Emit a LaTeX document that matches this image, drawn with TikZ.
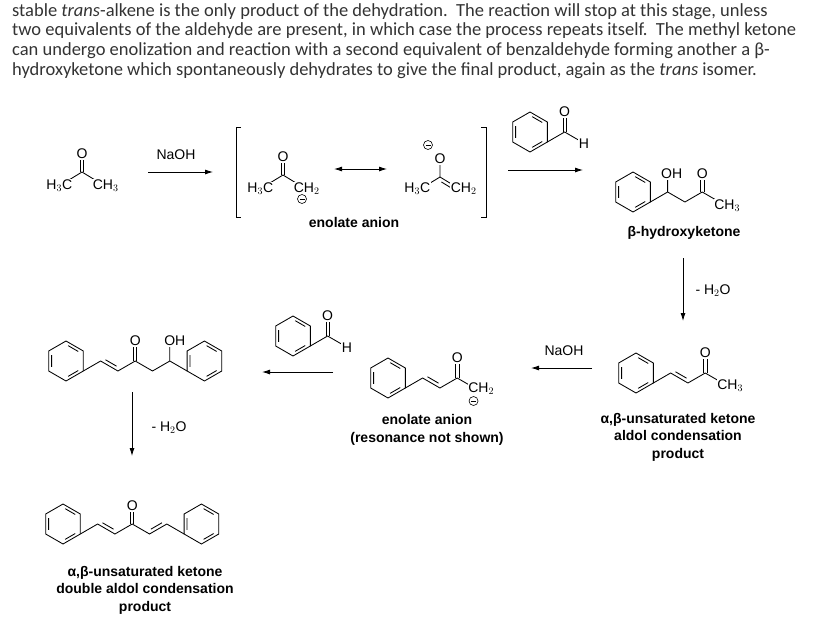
\documentclass[tikz,border=0pt]{standalone}
\usepackage{fontspec}
\setmainfont{Liberation Sans}
\newfontfamily\parafont{Carlito}
\usetikzlibrary{calc,arrows.meta}
\tikzset{
 bd/.style={line width=0.85pt},
 atm/.style={fill=white,inner sep=0.6pt,font=\fontsize{14}{15}\selectfont},
 captxt/.style={font=\bfseries\fontsize{14}{17.5}\selectfont,align=center},
 lbl/.style={font=\fontsize{14}{15}\selectfont},
 arr/.style={line width=0.85pt,-{Latex[length=8pt,width=5pt]}},
 para/.style={anchor=west,font=\parafont\fontsize{18.5}{20}\selectfont,inner sep=0,text=black!80}
}
\newcommand\benz[1]{%
 \draw[bd] (#1) +(90:20) -- +(30:20) -- +(-30:20) -- +(-90:20) -- +(-150:20) -- +(150:20) -- cycle;
 \draw[bd] (#1) +(82:15.5) -- +(38:15.5) +(-38:15.5) -- +(-82:15.5) +(202:15.5) -- +(158:15.5);}
\newcommand\dbl[3]{\draw[bd] ($(#1)!0.18!(#2)!3.5pt!#3:(#2)$) -- ($(#2)!0.18!(#1)!3.5pt!-#3:(#1)$);}
\newcommand\co[2]{\draw[bd] ($(#1)+(-1.7,0)$) -- ($(#2)+(-1.7,0)$) ($(#1)+(1.7,0)$) -- ($(#2)+(1.7,0)$);}
\newcommand\minus[1]{\node[circle,draw,inner sep=0,minimum size=9pt,fill=white,line width=0.6pt] at (#1) {};\draw[line width=0.7pt] ($(#1)+(-2.5,0)$)--($(#1)+(2.5,0)$);}
\begin{document}
\begin{tikzpicture}[x=1pt,y=-1pt]
\useasboundingbox (0,0) rectangle (818,629);
% paragraph
\node[para] (p1) at (12,12) {stable \textit{trans}-alkene is the only product of the dehydration.\ \ The reaction will stop at this stage, unless};
\node[para] (p2) at (12,31) {two equivalents of the aldehyde are present, in which case the process repeats itself.\ \ The methyl ketone};
\node[para] (p3) at (12,51) {can undergo enolization and reaction with a second equivalent of benzaldehyde forming another a β-};
\node[para] (p4) at (12,71) {hydroxyketone which spontaneously dehydrates to give the final product, again as the \textit{trans} isomer.};

% acetone
\coordinate (a0) at (82,172); \coordinate (aO) at (82,154);
\coordinate (aL) at (64,183); \coordinate (aR) at (100,183);
\draw[bd] (aL)--(a0)--(aR); \co{a0}{aO}
\node[atm] at (82,154) {O};
\node[atm,anchor=east] at (73,186) {H$_3$C};
\node[atm,anchor=west] at (92,186) {CH$_3$};

% arrow NaOH
\node[lbl] (n1) at (176,155) {NaOH};
\coordinate (r1s) at (148,172); \coordinate (r1e) at (213,172);
\draw[arr] (r1s)--(r1e);

% bracket
\coordinate (bl1) at (236,127); \coordinate (bl2) at (236,217);
\draw[line width=0.7pt] ($(bl1)+(5,0)$)--(bl1)--(bl2)--($(bl2)+(5,0)$);
\coordinate (br1) at (486,127); \coordinate (br2) at (486,217);
\draw[line width=0.7pt] ($(br1)+(-5,0)$)--(br1)--(br2)--($(br2)+(-5,0)$);

% enolate 1
\coordinate (e0) at (283,175); \coordinate (eO) at (283,157);
\coordinate (eL) at (265,186); \coordinate (eR) at (301,186);
\draw[bd] (eL)--(e0)--(eR); \co{e0}{eO}
\node[atm] at (283,157) {O};
\node[atm,anchor=east] at (274,189) {H$_3$C};
\node[atm,anchor=west] at (293,189) {CH$_2$};
\minus{302,199}
% resonance arrow
\coordinate (ra) at (334,169); \coordinate (rb) at (387,169);
\draw[line width=0.85pt,{Latex[length=8pt,width=5pt]}-{Latex[length=8pt,width=5pt]}] (ra)--(rb);
% enolate 2
\coordinate (f0) at (440,177); \coordinate (fO) at (440,159);
\coordinate (fL) at (422,188); \coordinate (fR) at (458,188);
\draw[bd] (fL)--(f0)--(fR) (f0)--(fO);
\dbl{f0}{fR}{-90}
\node[atm] at (440,159) {O};
\node[atm,anchor=east] at (431,189) {H$_3$C};
\node[atm,anchor=west] at (450,189) {CH$_2$};
\minus{428,145}
\node[captxt] (ea1) at (354,222) {enolate anion};

% arrow 2
\coordinate (r2s) at (508,170); \coordinate (r2e) at (583,170);
\draw[arr] (r2s)--(r2e);
% benzaldehyde top
\coordinate (bz1) at (530,132);
\benz{bz1}
\coordinate (b1a) at ($(bz1)+(30:20)$); \coordinate (b1c) at ($(b1a)+(17.3,-10)$);
\coordinate (b1O) at ($(b1c)+(0,-20)$); \coordinate (b1H) at ($(b1c)+(17.3,10)$);
\draw[bd] (b1a)--(b1c)--(b1H); \co{b1c}{b1O}
\node[atm] at (b1O) {O}; \node[atm] at ($(b1H)+(2,2)$) {H};

% beta-hydroxyketone
\coordinate (bz2) at (633,192);
\benz{bz2}
\coordinate (h1) at ($(bz2)+(30:20)$);
\coordinate (h2) at ($(h1)+(17.3,-10)$); \coordinate (h3) at ($(h2)+(17.3,10)$);
\coordinate (h4) at ($(h3)+(17.3,-10)$); \coordinate (h5) at ($(h4)+(17.3,10)$);
\coordinate (hOH) at ($(h2)+(0,-18)$); \coordinate (hO) at ($(h4)+(0,-18)$);
\draw[bd] (h1)--(h2)--(h3)--(h4)--(h5) (h2)--(hOH); \co{h4}{hO}
\node[atm] at ($(hOH)+(4,0)$) {OH}; \node[atm] at (hO) {O};
\node[atm,anchor=west] at ($(h5)+(-6,4)$) {CH$_3$};
\node[captxt] (bh) at (684,233) {β-hydroxyketone};

% vertical arrow right
\coordinate (v1s) at (683,258); \coordinate (v1e) at (683,321);
\draw[arr] (v1s)--(v1e);
\node[lbl,anchor=west] (w1) at (692,291) {- H$_2$O};

% enone
\coordinate (bz3) at (636,373);
\benz{bz3}
\coordinate (k1) at ($(bz3)+(30:20)$);
\coordinate (k2) at ($(k1)+(17.3,-10)$); \coordinate (k3) at ($(k2)+(17.3,10)$);
\coordinate (k4) at ($(k3)+(17.3,-10)$); \coordinate (k5) at ($(k4)+(17.3,10)$);
\coordinate (kO) at ($(k4)+(0,-20)$);
\draw[bd] (k1)--(k2)--(k3)--(k4)--(k5); \dbl{k2}{k3}{90} \co{k4}{kO}
\node[atm] at (kO) {O};
\node[atm,anchor=west] at ($(k5)+(-6,3)$) {CH$_3$};
\node[captxt] (c1) at (678,437) {α,β-unsaturated ketone\\aldol condensation\\product};

% NaOH arrow back
\node[lbl] (n2) at (564,351) {NaOH};
\coordinate (r3s) at (592,368); \coordinate (r3e) at (531,368);
\draw[arr] (r3s)--(r3e);

% enolate middle
\coordinate (bz4) at (388,378);
\benz{bz4}
\coordinate (m1) at ($(bz4)+(30:20)$);
\coordinate (m2) at ($(m1)+(17.3,-10)$); \coordinate (m3) at ($(m2)+(17.3,10)$);
\coordinate (m4) at ($(m3)+(17.3,-10)$); \coordinate (m5) at ($(m4)+(17.3,10)$);
\coordinate (mO) at ($(m4)+(0,-20)$);
\coordinate (mneg) at ($(m5)+(-1,13)$);
\draw[bd] (m1)--(m2)--(m3)--(m4)--(m5); \dbl{m2}{m3}{90} \co{m4}{mO}
\node[atm] at (mO) {O};
\node[atm,anchor=west] at ($(m5)+(-7,1)$) {CH$_2$};
\minus{mneg}
\node[captxt] (c2) at (427,430) {enolate anion\\(resonance not shown)};

% benzaldehyde middle
\coordinate (bz5) at (293,336);
\benz{bz5}
\coordinate (b5a) at ($(bz5)+(30:20)$); \coordinate (b5c) at ($(b5a)+(17.3,-10)$);
\coordinate (b5O) at ($(b5c)+(0,-20)$); \coordinate (b5H) at ($(b5c)+(17.3,10)$);
\draw[bd] (b5a)--(b5c)--(b5H); \co{b5c}{b5O}
\node[atm] at (b5O) {O}; \node[atm] at ($(b5H)+(2,2)$) {H};

% arrow to adduct
\coordinate (r4s) at (333,372); \coordinate (r4e) at (262,372);
\draw[arr] (r4s)--(r4e);

% aldol adduct
\coordinate (bz6) at (66,361);
\benz{bz6}
\coordinate (d1) at ($(bz6)+(30:20)$);
\coordinate (d2) at ($(d1)+(17.3,-10)$); \coordinate (d3) at ($(d2)+(17.3,10)$);
\coordinate (d4) at ($(d3)+(17.3,-10)$); \coordinate (d5) at ($(d4)+(17.3,10)$);
\coordinate (d6) at ($(d5)+(17.3,-10)$); \coordinate (d7) at ($(d6)+(17.3,10)$);
\coordinate (bz7) at ($(d7)+(-30:20)$);
\coordinate (dO) at ($(d4)+(0,-20)$); \coordinate (dOH) at ($(d6)+(0,-20)$);
\draw[bd] (d1)--(d2)--(d3)--(d4)--(d5)--(d6)--(d7) (d6)--(dOH);
\dbl{d2}{d3}{90} \co{d4}{dO}
\benz{bz7}
\node[atm] at (dO) {O}; \node[atm] at ($(dOH)+(5,0)$) {OH};

% vertical arrow left
\coordinate (v2s) at (132,392); \coordinate (v2e) at (132,456);
\draw[arr] (v2s)--(v2e);
\node[lbl,anchor=west] (w2) at (148,428) {- H$_2$O};

% final product
\coordinate (bz8) at (63,524);
\benz{bz8}
\coordinate (g1) at ($(bz8)+(30:20)$);
\coordinate (g2) at ($(g1)+(17.3,-10)$); \coordinate (g3) at ($(g2)+(17.3,10)$);
\coordinate (g4) at ($(g3)+(17.3,-10)$); \coordinate (g5) at ($(g4)+(17.3,10)$);
\coordinate (g6) at ($(g5)+(17.3,-10)$); \coordinate (g7) at ($(g6)+(17.3,10)$);
\coordinate (bz9) at ($(g7)+(-30:20)$);
\coordinate (gO) at ($(g4)+(0,-18)$);
\draw[bd] (g1)--(g2)--(g3)--(g4)--(g5)--(g6)--(g7);
\dbl{g2}{g3}{90} \dbl{g5}{g6}{90} \co{g4}{gO}
\benz{bz9}
\node[atm] at (gO) {O};
\node[captxt] (c3) at (145,590) {α,β-unsaturated ketone\\double aldol condensation\\product};
\end{tikzpicture}
\end{document}
